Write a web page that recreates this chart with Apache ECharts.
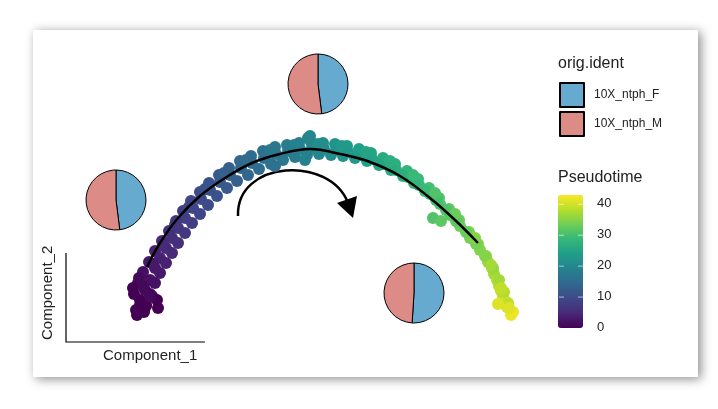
<!DOCTYPE html>
<html><head><meta charset="utf-8">
<script src="https://cdn.jsdelivr.net/npm/echarts@6/dist/echarts.min.js"></script>
<style>html,body{margin:0;padding:0;background:#fff}#c{width:718px;height:409px}</style>
</head><body><div id="c"></div>
<script>
// Cells: x (Component_1), y (Component_2), pseudotime
const cellX = [140,145,150,155,160,166,172,178,185,193,201,210,220,230,241,252,264,276,288,300,312,324,336,348,360,372,384,396,408,419,430,440,450,460,470,480,488,494,499,503,507,511,
  134,138,143,149,155,162,169,176,183,191,200,209,219,229,240,251,263,275,287,299,311,323,335,347,359,371,383,395,407,418,429,439,449,459,469,478,486,492,497,501,505,
  146,150,155,160,166,172,178,185,192,200,208,217,227,237,248,259,271,283,295,307,319,331,343,355,367,379,391,403,414,425,436,446,456,466,476,485,493,499,504,508,513,
  136,140,146,152,133,139,157,158,275,305,433,441,498,308,310,144,150,137,
  143,153,163,175,189,205,224,246,270,294,318,342,366,390,413,435,455,475,491,501,509];
const cellY = [300,290,280,268,258,248,238,228,218,208,199,190,182,175,168,163,158,154,151,149,148,149,150,152,155,159,164,170,177,185,194,204,215,226,238,250,262,274,286,297,307,315,
  294,283,272,262,251,241,231,221,211,201,192,183,175,168,161,156,151,147,145,143,142,143,144,146,149,153,158,164,171,179,188,198,209,220,232,244,256,268,280,291,301,
  305,294,283,273,263,253,243,233,223,214,205,196,188,181,175,169,164,160,157,155,154,155,156,158,161,165,170,176,183,191,200,210,221,232,244,256,268,280,292,303,312,
  310,305,306,296,288,278,300,308,166,160,218,221,304,138,136,312,297,315,
  286,264,245,225,207,189,173,160,150,145,144,146,152,161,175,193,214,238,265,288,308];
const cellT = [0,1,2,3,4,5,6,7,8,9,10,11,12,13,14,15,16,17,18,19,20,21,22,23,24,25,26,27,28,29,30,31,32,33,34,35,36,37,38,39,40,42,
  0,1,2,3,4,5,6,7,8,9,10,11,12,13,14,15,16,17,18,19,20,21,22,23,24,25,26,27,28,29,30,31,32,33,34,35,36,37,38,39,40,
  0,1,2,3,4,5,6,7,8,9,10,11,12,13,14,15,16,17,18,19,20,21,22,23,24,25,26,27,28,29,30,31,32,33,34,35,36,37,38,39,42,
  0,0,0,1,0,1,0,0,16,19,31,32,41,20,20,0,1,0,
  1,3,5,7,9,11,13,15,17,19,21,23,25,27,29,31,33,35,37,39,41];
// Trajectory
const trajX = [147,160,178,200,225,252,280,310,340,370,400,430,455,478];
const trajY = [267,243,218,196,178,163,154,149,154,162,176,198,220,243];
// Pies: F and M share at three states
const pieNames = ['10X_ntph_F','10X_ntph_M'];
const pieCenters = [[116,200],[318,84],[414,293]];
const pieF = [48,48,51];
const pieM = [52,52,49];
const ptTicks = [0,10,20,30,40];

const viridis = ['#440154','#482878','#3e4989','#31688e','#26828e','#1f9e89','#35b779','#6ece58','#b5de2b','#fde725'];
const chart = echarts.init(document.getElementById('c'));
const pts = cellX.map((x,i)=>[x,cellY[i],cellT[i]]);
const pieSeries = pieCenters.map((c,i)=>({
  type:'pie', center:c, radius:30, startAngle:90, label:{show:false}, silent:true, z:5,
  itemStyle:{borderColor:'#000',borderWidth:1},
  data:[{name:pieNames[0],value:pieF[i],itemStyle:{color:'#67aacf'}},{name:pieNames[1],value:pieM[i],itemStyle:{color:'#dc8b86'}}]
}));
const cbTop=195, cbH=133, vMax=43;
const tickGraphics = ptTicks.map(v=>({type:'text',x:597,y:cbTop+cbH-(v/vMax)*cbH-7,
  style:{text:String(v),font:'13px Liberation Sans, Arial',fill:'#222'}}));
const tickMarks = ptTicks.filter(v=>v>0).map(v=>({type:'line',z:10,shape:{x1:559,y1:cbTop+cbH-(v/vMax)*cbH,x2:583,y2:cbTop+cbH-(v/vMax)*cbH},
  style:{stroke:'rgba(255,255,255,0.6)',lineWidth:1,lineDash:[5,14]}}));
chart.setOption({
  animation:false,
  grid:{left:0,right:0,top:0,bottom:0},
  xAxis:{type:'value',min:0,max:718,show:false},
  yAxis:{type:'value',min:0,max:409,inverse:true,show:false},
  visualMap:{type:'continuous',min:0,max:vMax,dimension:2,seriesIndex:0,inRange:{color:viridis},
    left:558,top:cbTop,itemWidth:25,itemHeight:cbH,text:['',''],calculable:false,padding:0,showLabel:false},
  legend:{data:pieNames,orient:'vertical',left:559,top:82,padding:0,itemWidth:24,itemHeight:24,itemGap:3,icon:'rect',
    textStyle:{fontSize:12,fontFamily:'Liberation Sans, Arial',color:'#222',padding:[0,0,0,5]}},
  graphic:[
    {type:'rect',shape:{x:33,y:30,width:665,height:347},style:{fill:'#fff',shadowBlur:10,shadowColor:'rgba(0,0,0,0.45)',shadowOffsetX:3,shadowOffsetY:2},z:-10},
    {type:'polyline',shape:{points:[[66,253],[66,342],[205,342]]},style:{stroke:'#000',lineWidth:1.2,fill:null}},
    {type:'text',x:103,y:348,style:{text:'Component_1',font:'15px Liberation Sans, Arial',fill:'#222'}},
    {type:'text',x:40,y:340,rotation:Math.PI/2,style:{text:'Component_2',font:'15px Liberation Sans, Arial',fill:'#222'}},
    {type:'text',x:558,y:56,style:{text:'orig.ident',font:'16px Liberation Sans, Arial',fill:'#222'}},
    {type:'text',x:558,y:170,style:{text:'Pseudotime',font:'16px Liberation Sans, Arial',fill:'#222'}},
    {type:'bezierCurve',shape:{x1:238,y1:216,cpx1:236,cpy1:160,cpx2:330,cpy2:155,x2:348,y2:203},style:{stroke:'#000',lineWidth:2.5,fill:null}},
    {type:'polygon',shape:{points:[[337,203],[357,196],[353,218]]},style:{fill:'#000'}},
    ...tickGraphics, ...tickMarks
  ],
  series:[
    {type:'scatter',data:pts,symbolSize:12,z:2,itemStyle:{opacity:1}},
    {type:'line',data:trajX.map((x,i)=>[x,trajY[i]]),smooth:0.4,symbol:'none',lineStyle:{color:'#000',width:2.5},z:3,silent:true},
    ...pieSeries
  ]
});
</script></body></html>
